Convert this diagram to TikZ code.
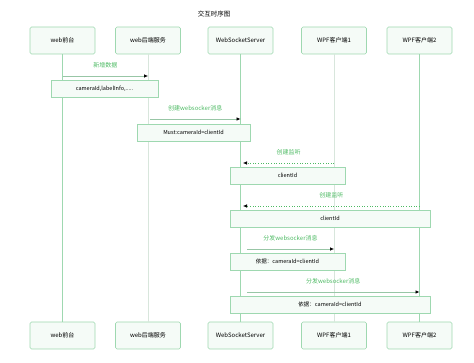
\documentclass[tikz,border=0pt]{standalone}
\usepackage{fontspec}
\setmainfont{Noto Sans CJK SC}
\usepackage{tikz}
\usetikzlibrary{arrows.meta, positioning, calc}

\definecolor{lineGreen}{HTML}{9ED8B0}
\definecolor{textGreen}{HTML}{4DBA63}
\definecolor{boxFill}{HTML}{F5FBF7}
\definecolor{lifeGray}{HTML}{D8E6DC}

\begin{document}
\begin{tikzpicture}[x=1pt, y=-1pt,
			actor/.style={rectangle, draw=lineGreen, fill=boxFill, rounded corners=1.5pt,
				minimum width=65pt, minimum height=27pt, align=center,
				font=\fontsize{6}{7}\selectfont, line width=0.6pt},
			notebox/.style={rectangle, draw=lineGreen, fill=boxFill,
				minimum height=17pt, align=center, font=\fontsize{5.5}{7}\selectfont,
				line width=0.5pt},
			msg/.style={-{Latex[length=4pt, width=3.5pt, color=black]}, draw=lineGreen!80!gray, line width=0.6pt},
			reply/.style={msg, draw=textGreen, dotted},
			lbl/.style={font=\fontsize{6}{7}\selectfont, text=textGreen},
			life/.style={draw=lineGreen, line width=0.8pt},
			lifeg/.style={draw=lifeGray, line width=0.6pt},
			]
			\useasboundingbox (0,0) rectangle (474,363);
			
			% Title
			\node[font=\fontsize{6.5}{8}\selectfont] (title) at (214,14) {交互时序图};
			
			% Participants
			\node[actor] (web)  at (62.5,40.5)  {web前台};
			\node[actor] (back) at (148,40.5)   {web后端服务};
			\node[actor] (wss)  at (240.5,40.5) {WebSocketServer};
			\node[actor] (wpf1) at (334,40.5)   {WPF客户端1};
			\node[actor] (wpf2) at (419.5,40.5) {WPF客户端2};
			
			\node[actor] (webB)  at (62.5,335.5)  {web前台};
			\node[actor] (backB) at (148,335.5)   {web后端服务};
			\node[actor] (wssB)  at (240.5,335.5) {WebSocketServer};
			\node[actor] (wpf1B) at (334,335.5)   {WPF客户端1};
			\node[actor] (wpf2B) at (419.5,335.5) {WPF客户端2};
			
			% Lifelines
			\draw[life]  (web)  -- (webB);
			\draw[lifeg] (back) -- (backB);
			\draw[life]  (wss)  -- (wssB);
			\draw[lifeg] (wpf1) -- (wpf1B);
			\draw[life]  (wpf2) -- (wpf2B);
			
			% Message points
			\coordinate (m1a) at (62.5,76);  \coordinate (m1b) at (148,76);
			\coordinate (m2a) at (150,119);  \coordinate (m2b) at (240.5,119);
			\coordinate (m3a) at (334,163);  \coordinate (m3b) at (243,163);
			\coordinate (m4a) at (419.5,206);\coordinate (m4b) at (243,206);
			\coordinate (m5a) at (247,249);  \coordinate (m5b) at (334,249);
			\coordinate (m6a) at (247,292);  \coordinate (m6b) at (419.5,292);
			
			% Notes
			\node[notebox, minimum width=107pt] (n1) at (104.5,89)  {cameraId,labelInfo,.....};
			\node[notebox, minimum width=113pt] (n2) at (193.5,132.5) {Must:cameraId=clientId};
			\node[notebox, minimum width=115pt] (n3) at (287.5,175.5) {clientId};
			\node[notebox, minimum width=200pt] (n4) at (330,218.5) {clientId};
			\node[notebox, minimum width=115pt] (n5) at (287.5,261.5) {依据：cameraId=clientId};
			\node[notebox, minimum width=200pt] (n6) at (330,304.5) {依据：cameraId=clientId};
			
			% Messages
			\draw[msg]   (m1a) -- node[above=4pt, lbl] {新增数据} (m1b);
			\draw[msg]   (m2a) -- node[above=4pt, lbl] {创建websocker消息} (m2b);
			\draw[reply] (m3a) -- node[above=4pt, lbl] {创建监听} (m3b);
			\draw[reply] (m4a) -- node[above=4pt, lbl] {创建监听} (m4b);
			\draw[msg]   (m5a) -- node[above=4pt, lbl] {分发websocker消息} (m5b);
			\draw[msg]   (m6a) -- node[above=4pt, lbl] {分发websocker消息} (m6b);
		\end{tikzpicture}
\end{document}
